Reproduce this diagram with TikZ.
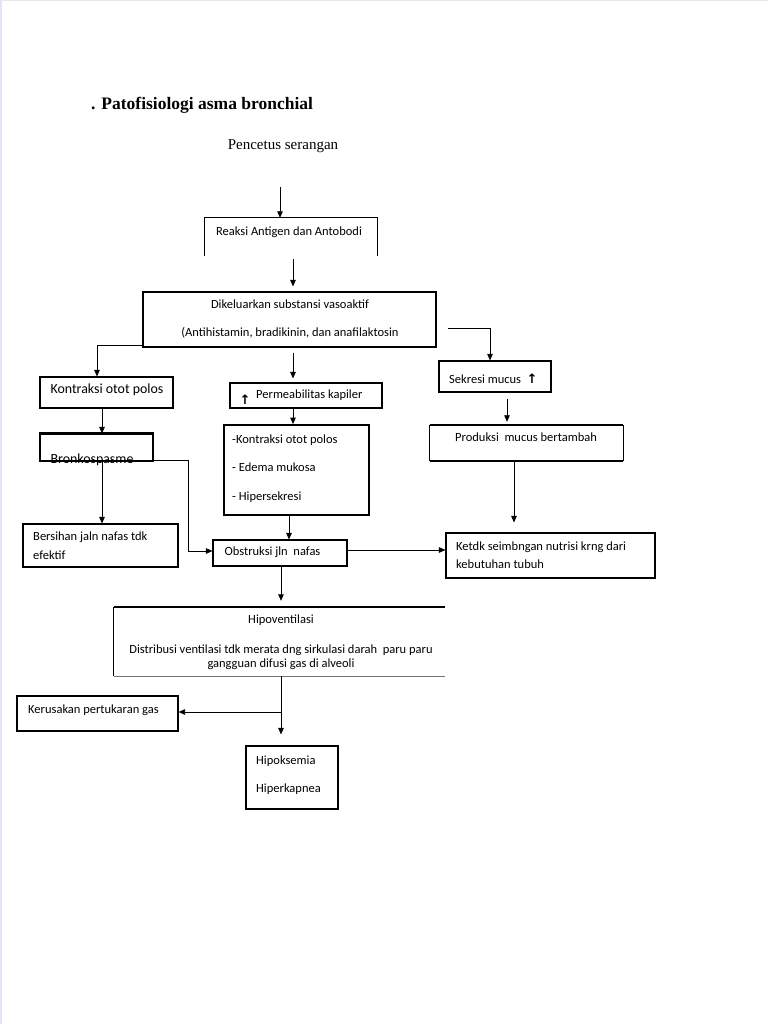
\documentclass[tikz,border=0pt]{standalone}
\usepackage{fontspec}
\setmainfont{Carlito}
\newfontfamily\tnr{Liberation Serif}
\newfontfamily\dvs{DejaVu Sans}
\usetikzlibrary{arrows.meta}
\begin{document}
\begin{tikzpicture}[x=1pt,y=-1pt,
  bx/.style 2 args={draw,line width=1.1pt,inner sep=0pt,minimum width=#1,minimum height=#2},
  hb/.style 2 args={inner sep=0pt,minimum width=#1,minimum height=#2},
  txt/.style={inner sep=0pt,font=\fontsize{12.5}{15}\selectfont},
  bigtxt/.style={inner sep=0pt,font=\fontsize{13.9}{16}\selectfont},
  lt/.style={txt,anchor=mid west},
  ct/.style={txt,anchor=mid},
  up/.style={inner sep=0pt,font=\dvs\bfseries\fontsize{13}{15}\selectfont},
  arr/.style={-{Triangle[length=6.5pt,width=5.5pt]},line width=0.8pt}]
\useasboundingbox (0,0) rectangle (768,1024);
\fill[white] (0,0) rectangle (768,1024);
\draw[color={rgb,255:red,226;green,229;blue,242},line width=1.5pt] (0.75,1024) -- (0.75,0.75) -- (768,0.75);

% title
\node[inner sep=0pt,anchor=base west,font=\tnr\bfseries\fontsize{17.5}{20}\selectfont] (title) at (91,110) {. Patofisiologi asma bronchial};
\node[inner sep=0pt,anchor=mid,font=\tnr\fontsize{15}{18}\selectfont] (pencetus) at (283,147) {Pencetus serangan};
\coordinate (start) at (280,187);

% Reaksi (open bottom)
\node[hb={172pt}{38pt}] (reaksi) at (291,237) {};
\draw[line width=1.1pt] (reaksi.south west) -- (reaksi.north west) -- (reaksi.north east) -- (reaksi.south east);
\node[ct] (treaksi) at (289,233) {Reaksi Antigen dan Antobodi};

% Dikeluarkan
\node[bx={293pt}{55pt}] (dikel) at (289.5,319.5) {};
\node[ct] (tdikel1) at (290,306) {Dikeluarkan substansi vasoaktif};
\node[ct] (tdikel2) at (290,334) {(Antihistamin, bradikinin, dan anafilaktosin};

% Kontraksi otot polos
\node[bx={133pt}{31pt}] (kontr) at (106.5,392.5) {};
\node[bigtxt,anchor=mid] (tkontr) at (107,391) {Kontraksi otot polos};

% Bronkospasme
\node[bx={113pt}{27pt}] (bronko) at (96.5,447.5) {};
\draw[line width=2pt] (bronko.north west) -- (bronko.north east);
\node[bigtxt,anchor=base] (tbronko) at (92,463) {Bronkospasme};

% Bersihan
\node[bx={155pt}{43pt}] (bersih) at (100.5,545.5) {};
\node[lt] (tbersih1) at (33,538) {Bersihan jaln nafas tdk};
\node[lt] (tbersih2) at (33,557) {efektif};

% Permeabilitas
\node[bx={152pt}{25pt}] (perm) at (306,395.5) {};
\node[up] (uperm) at (245,400) {↑};
\node[lt] (tperm) at (256,396) {Permeabilitas kapiler};

% list box
\node[bx={145pt}{90pt},line width=1.8pt] (list) at (296.5,470) {};
\node[lt] (tlist1) at (232,441) {-Kontraksi otot polos};
\node[lt] (tlist2) at (232,469) {- Edema mukosa};
\node[lt] (tlist3) at (232,498) {- Hipersekresi};

% Obstruksi
\node[bx={134pt}{26pt}] (obstr) at (280,553) {};
\node[ct] (tobstr) at (272.5,553) {Obstruksi jln\ \ nafas};

% Sekresi
\node[bx={112pt}{31pt}] (sekresi) at (495,376.5) {};
\node[lt] (tsekresi) at (449,381) {Sekresi mucus};
\node[up] (usekresi) at (532,379) {↑};

% Produksi
\node[hb={193pt}{36pt}] (prod) at (526.5,443) {};
\draw[line width=1.1pt] (prod.north west) -- (prod.south west) (prod.north east) -- (prod.south east);
\draw[line width=1.8pt] (prod.north west) -- (prod.north east) (prod.south west) -- (prod.south east);
\node[lt] (tprod) at (455,439) {Produksi\ \ mucus bertambah};

% Ketdk
\node[bx={209pt}{45pt}] (ketdk) at (550.5,555.5) {};
\node[lt] (tketdk1) at (456,548) {Ketdk seimbngan nutrisi krng dari};
\node[lt] (tketdk2) at (456,566) {kebutuhan tubuh};

% Hipoventilasi (open right)
\node[hb={331pt}{69pt}] (hipov) at (279.5,641.5) {};
\draw[line width=2pt] (hipov.north west) -- (hipov.north east);
\draw[line width=1.1pt] (hipov.north west) -- (hipov.south west);
\draw[color=black!55,line width=1pt] (hipov.south west) -- (hipov.south east);
\node[ct] (thipov1) at (281,621) {Hipoventilasi};
\node[ct] (thipov2) at (281,651) {Distribusi ventilasi tdk merata dng sirkulasi darah\ \ paru paru};
\node[ct] (thipov3) at (281,665) {gangguan difusi gas di alveoli};

% Kerusakan
\node[bx={161pt}{35pt}] (kerus) at (97.5,713.5) {};
\node[lt] (tkerus) at (28,711) {Kerusakan pertukaran gas};

% Hipoksemia
\node[bx={92pt}{63pt}] (hipok) at (292,777.5) {};
\node[lt] (thipok1) at (256,762) {Hipoksemia};
\node[lt] (thipok2) at (256,790) {Hiperkapnea};

% connectors
\draw[arr] (start) -- (reaksi.north -| start);
\draw[arr,shorten >=5pt] ([xshift=2pt,yshift=-3pt]reaksi.south) -- ([xshift=3.5pt]dikel.north);
\draw[arr] ([yshift=2pt]dikel.south west) -| ([xshift=-9.5pt]kontr.north);
\draw[arr] ([xshift=-4.5pt]kontr.south) -- ([xshift=5.5pt]bronko.north);
\draw[arr] ([xshift=5.5pt]bronko.south) -- ([xshift=1.5pt]bersih.north);
\draw[arr] ([yshift=1pt]bronko.south east) -- ++(35,0) |- ([yshift=2pt]obstr.west);
\draw[arr,shorten >=4pt] ([xshift=3.5pt,yshift=-5pt]dikel.south) -- ([xshift=-13pt]perm.north);
\draw[arr] ([xshift=-13pt]perm.south) -- ([xshift=-3.5pt]list.north);
\draw[arr] ([xshift=-7.5pt]list.south) -- ([xshift=9pt]obstr.north);
\draw[arr] ([yshift=3pt]obstr.east) -- ([yshift=5.5pt]ketdk.west);
\draw[arr,shorten >=6pt] ([xshift=1pt]obstr.south) -- ([xshift=1.5pt]hipov.north);
\draw[arr] ([xshift=11pt,yshift=-8.5pt]dikel.east) -| ([xshift=-5pt]sekresi.north);
\draw[arr,shorten >=3pt] ([xshift=12pt,yshift=-6pt]sekresi.south) -- ([xshift=-19.5pt]prod.north);
\draw[arr,shorten >=10pt] ([xshift=-12.5pt]prod.south) -- ([xshift=-36.5pt]ketdk.north);
\draw[arr,shorten >=11pt] ([xshift=1.5pt]hipov.south) -- ([xshift=-11pt]hipok.north);
\coordinate (br) at (281,712);
\draw[arr] (br) -- (kerus.east |- br);
\end{tikzpicture}
\end{document}
